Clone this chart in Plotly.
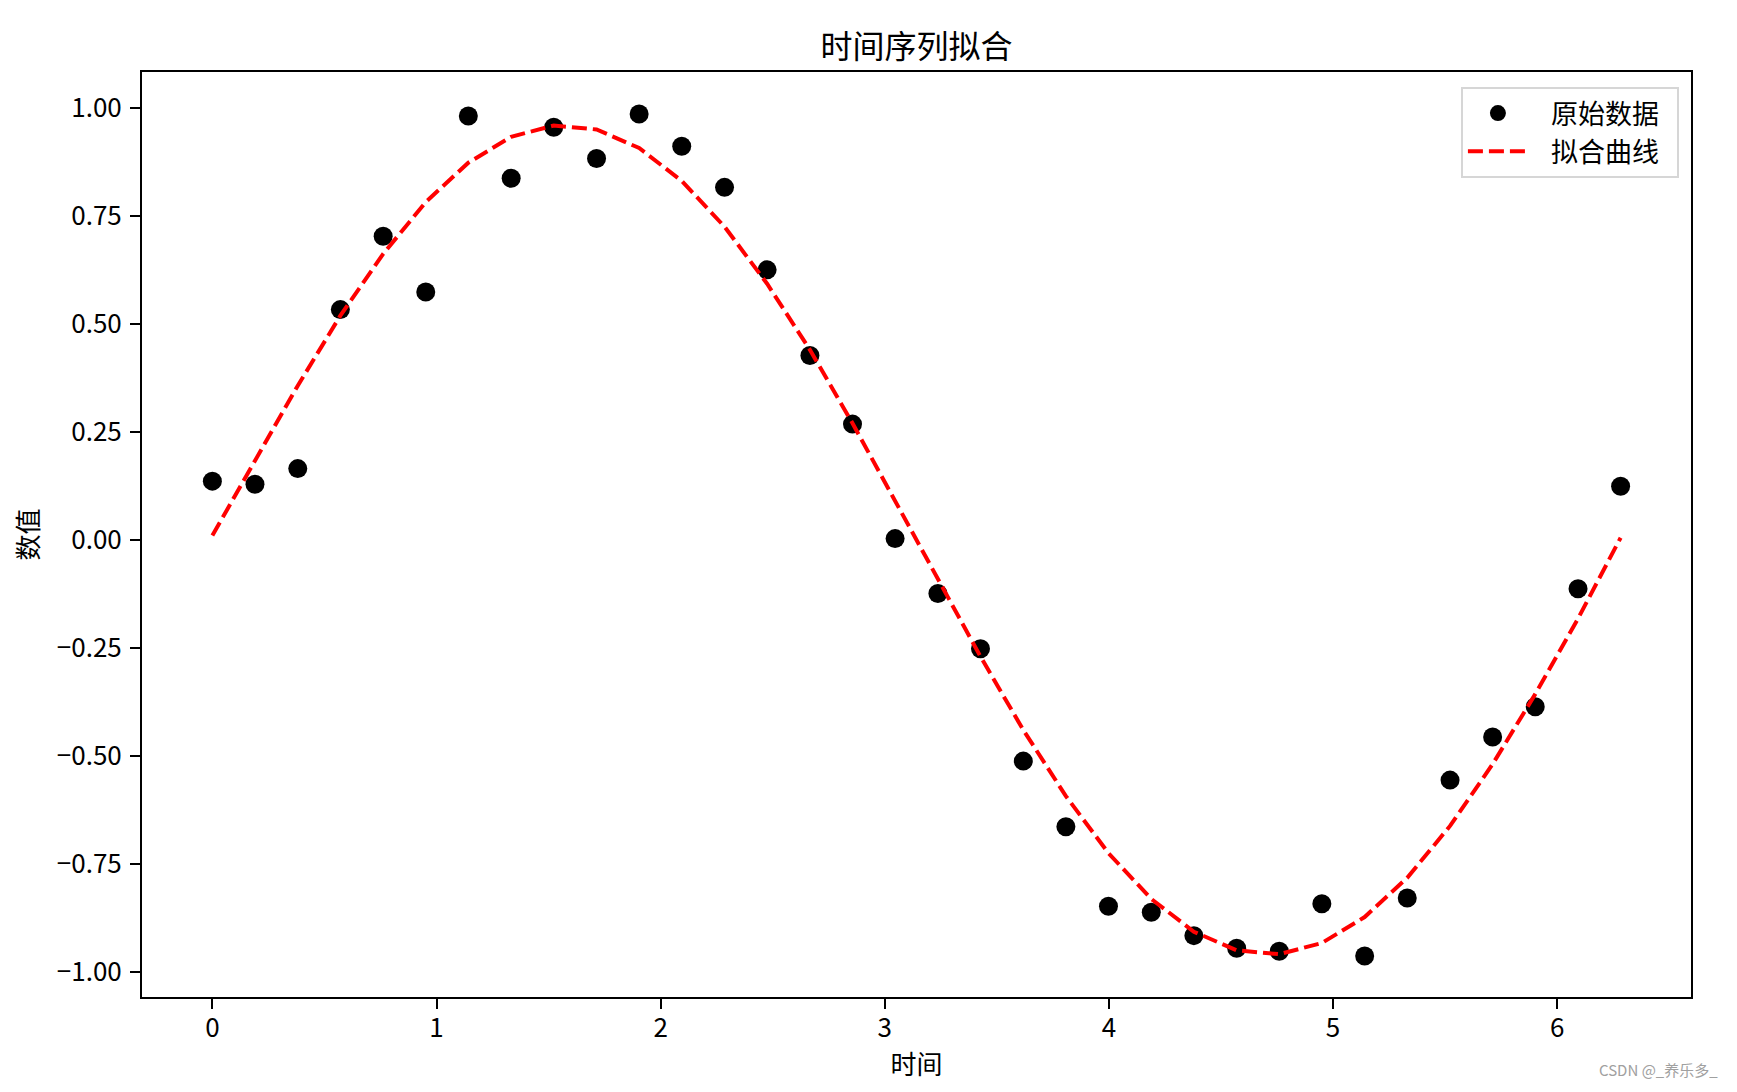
import plotly.graph_objects as go

# ---- data ----
t = [0.000, 0.190, 0.381, 0.571, 0.762, 0.952, 1.142, 1.333, 1.523, 1.714,
     1.904, 2.094, 2.285, 2.475, 2.666, 2.856, 3.046, 3.237, 3.427, 3.618,
     3.808, 3.998, 4.189, 4.379, 4.570, 4.760, 4.950, 5.141, 5.331, 5.522,
     5.712, 5.902, 6.093, 6.283]

raw = [0.136, 0.129, 0.165, 0.533, 0.703, 0.574, 0.981, 0.837, 0.955, 0.883,
       0.986, 0.911, 0.816, 0.625, 0.427, 0.268, 0.003, -0.124, -0.252, -0.512,
       -0.664, -0.848, -0.862, -0.916, -0.945, -0.952, -0.842, -0.963, -0.829, -0.556,
       -0.456, -0.386, -0.113, 0.124]

fit = [0.010, 0.182, 0.357, 0.519, 0.662, 0.782, 0.873, 0.933, 0.959, 0.950,
       0.907, 0.831, 0.725, 0.593, 0.440, 0.270, 0.091, -0.091, -0.270, -0.440,
       -0.593, -0.725, -0.831, -0.907, -0.950, -0.959, -0.933, -0.873, -0.782, -0.662,
       -0.519, -0.357, -0.182, 0.005]

title_text = "时间序列拟合"
x_label = "时间"
y_label = "数值"
series_names = ["原始数据", "拟合曲线"]
x_ticks = [0, 1, 2, 3, 4, 5, 6]
y_ticks = [-1.00, -0.75, -0.50, -0.25, 0.00, 0.25, 0.50, 0.75, 1.00]

FONT = "Noto Sans CJK SC"
NB = "\u00a0"

# page body has an 8px margin; figure sized to fit the window inside it
W, H = 1737 - 16, 1092 - 16

fig = go.Figure()
fig.add_trace(go.Scatter(
    x=t, y=raw, mode="markers", name=NB * 3 + series_names[0] + NB * 2,
    marker=dict(color="black", size=19, line=dict(width=0)),
))
fig.add_trace(go.Scatter(
    x=t, y=fit, mode="lines", name=NB * 3 + series_names[1] + NB * 2,
    line=dict(color="red", width=4, dash="15px,6px"),
))

axis_common = dict(
    showline=True, linecolor="black", linewidth=2, mirror=True,
    ticks="outside", ticklen=10, tickwidth=2, tickcolor="black",
    showgrid=False, zeroline=False,
    tickfont=dict(family=FONT, size=26, color="black"),
)

fig.update_layout(
    width=W, height=H,
    paper_bgcolor="white", plot_bgcolor="white",
    margin=dict(l=134, r=38, t=64, b=87),
    font=dict(family=FONT, color="black"),
    title=dict(text=title_text, x=0.5, xref="paper", xanchor="center",
               y=1 - 38.7 / H, yref="container", yanchor="middle",
               font=dict(family=FONT, size=32, color="black")),
    xaxis=dict(range=[-0.314, 6.597], tickvals=x_ticks,
               ticktext=[str(v) for v in x_ticks],
               ticklabelstandoff=-3,
               title=dict(text=x_label, font=dict(family=FONT, size=26), standoff=4),
               **axis_common),
    yaxis=dict(range=[-1.058, 1.083], tickvals=y_ticks,
               ticktext=[f"{v:.2f}".replace("-", "\u2212") for v in y_ticks],
               ticklabelstandoff=3,
               title=dict(text=y_label, font=dict(family=FONT, size=26), standoff=12),
               **axis_common),
    legend=dict(x=0.9922, y=0.9838, xanchor="right", yanchor="top",
                bgcolor="rgba(255,255,255,0.8)", bordercolor="#d6d6d6", borderwidth=2,
                font=dict(family=FONT, size=27, color="black"),
                itemwidth=60, tracegroupgap=4),
    showlegend=True,
)

fig.add_annotation(
    text="CSDN @_养乐多_", xref="paper", yref="paper",
    x=(1712 - 134) / 1549, y=-0.0789, xanchor="right", yanchor="middle",
    showarrow=False, font=dict(family=FONT, size=15, color="#a0a0a0"),
)

fig.write_html("out.html")
